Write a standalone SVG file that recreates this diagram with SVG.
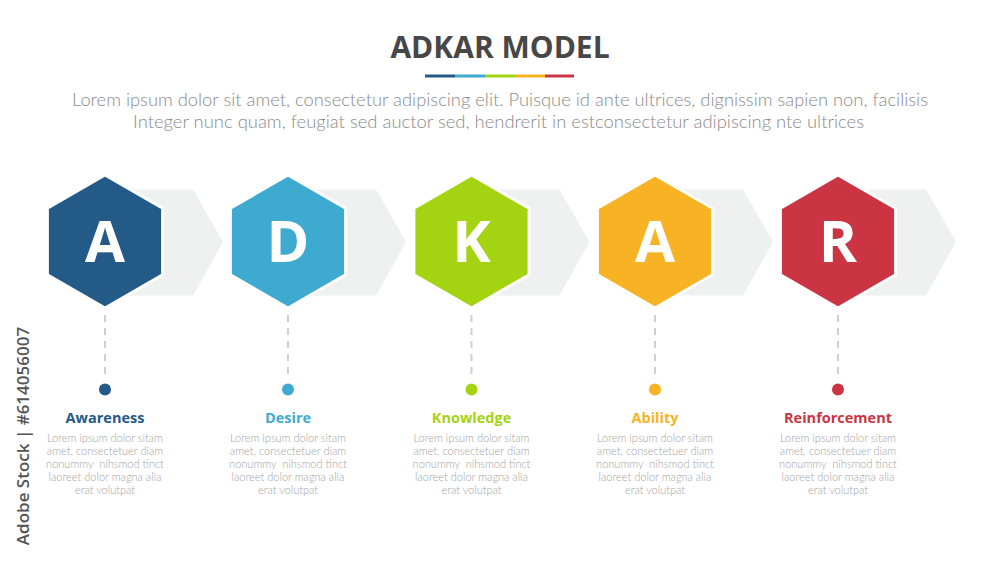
<svg xmlns="http://www.w3.org/2000/svg" xmlns:xlink="http://www.w3.org/1999/xlink" width="1000" height="563" viewBox="0 0 1000 563">
<style>
.title{font-family:"Open Sans","Liberation Sans",sans-serif;font-weight:700;font-size:30px;fill:#474747}
.sub{font-family:Lato,"Liberation Sans",sans-serif;font-weight:300;font-size:17.5px;fill:#8a8a8a}
.letter{font-family:"Open Sans","Liberation Sans",sans-serif;font-weight:700;font-size:58px;fill:#ffffff;text-anchor:middle}
.lbl{font-family:"Open Sans","Liberation Sans",sans-serif;font-weight:700;font-size:14.5px;text-anchor:middle}
.body{font-family:Lato,"Liberation Sans",sans-serif;font-weight:300;font-size:11px;fill:#a3a3a3;text-anchor:middle;white-space:pre}
.hex{stroke:#ffffff;stroke-width:3}
.chev{fill:#eff0f0}
.dash{stroke:#cfcfcf;stroke-width:2;stroke-dasharray:7 6}
.wm{font-family:"Open Sans","Liberation Sans",sans-serif;font-weight:600;font-size:17px;fill:#555555;text-anchor:middle}
</style>
<defs>
<path id="hexp" d="M0,-66.5 L57.6,-33.25 L57.6,33.25 L0,66.5 L-57.6,33.25 L-57.6,-33.25Z"/>
<path id="chevp" d="M0,-52.5 L88,-52.5 L118,0 L88,53.5 L0,53.5Z"/>
</defs>
<rect width="1000" height="563" fill="#ffffff"/>

<g id="header">
<text class="title" x="500" y="58" text-anchor="middle">ADKAR MODEL</text>
<rect x="425" y="74.5" width="30" height="3" fill="#235a87"/>
<rect x="455" y="74.5" width="30" height="3" fill="#3faacf"/>
<rect x="485" y="74.5" width="30" height="3" fill="#a4d312"/>
<rect x="515" y="74.5" width="30" height="3" fill="#f8b324"/>
<rect x="545" y="74.5" width="29" height="3" fill="#cb3443"/>
<text class="sub" x="500" y="106" text-anchor="middle" textLength="856" lengthAdjust="spacingAndGlyphs">Lorem ipsum dolor sit amet, consectetur adipiscing elit. Puisque id ante ultrices, dignissim sapien non, facilisis</text>
<text class="sub" x="498.5" y="128" text-anchor="middle" textLength="731" lengthAdjust="spacingAndGlyphs">Integer nunc quam, feugiat sed auctor sed, hendrerit in estconsectetur adipiscing nte ultrices</text>
</g>

<g id="connectors">
<use xlink:href="#chevp" class="chev" x="105" y="242"/>
<use xlink:href="#chevp" class="chev" x="288" y="242"/>
<use xlink:href="#chevp" class="chev" x="471.5" y="242"/>
<use xlink:href="#chevp" class="chev" x="655" y="242"/>
<use xlink:href="#chevp" class="chev" x="838" y="242"/>
<line class="dash" x1="105" y1="315" x2="105" y2="378"/>
<line class="dash" x1="288" y1="315" x2="288" y2="378"/>
<line class="dash" x1="471.5" y1="315" x2="471.5" y2="378"/>
<line class="dash" x1="655" y1="315" x2="655" y2="378"/>
<line class="dash" x1="838" y1="315" x2="838" y2="378"/>
</g>

<g id="node-awareness">
<use xlink:href="#hexp" class="hex" x="105" y="241.5" fill="#235a87"/>
<text class="letter" x="105" y="262">A</text>
<circle cx="105" cy="389.5" r="6" fill="#235a87"/>
<text class="lbl" x="105" y="423" fill="#235a87">Awareness</text>
<text class="body" x="105" y="442">Lorem ipsum dolor sitam</text>
<text class="body" x="105" y="455">amet, consectetuer diam</text>
<text class="body" x="105" y="468">nonummy  nihsmod tinct</text>
<text class="body" x="105" y="481">laoreet dolor magna alia</text>
<text class="body" x="105" y="494">erat volutpat</text>
</g>

<g id="node-desire">
<use xlink:href="#hexp" class="hex" x="288" y="241.5" fill="#3faacf"/>
<text class="letter" x="288" y="262">D</text>
<circle cx="288" cy="389.5" r="6" fill="#3faacf"/>
<text class="lbl" x="288" y="423" fill="#3faacf">Desire</text>
<text class="body" x="288" y="442">Lorem ipsum dolor sitam</text>
<text class="body" x="288" y="455">amet, consectetuer diam</text>
<text class="body" x="288" y="468">nonummy  nihsmod tinct</text>
<text class="body" x="288" y="481">laoreet dolor magna alia</text>
<text class="body" x="288" y="494">erat volutpat</text>
</g>

<g id="node-knowledge">
<use xlink:href="#hexp" class="hex" x="471.5" y="241.5" fill="#a4d312"/>
<text class="letter" x="471.5" y="262">K</text>
<circle cx="471.5" cy="389.5" r="6" fill="#a4d312"/>
<text class="lbl" x="471.5" y="423" fill="#a4d312">Knowledge</text>
<text class="body" x="471.5" y="442">Lorem ipsum dolor sitam</text>
<text class="body" x="471.5" y="455">amet, consectetuer diam</text>
<text class="body" x="471.5" y="468">nonummy  nihsmod tinct</text>
<text class="body" x="471.5" y="481">laoreet dolor magna alia</text>
<text class="body" x="471.5" y="494">erat volutpat</text>
</g>

<g id="node-ability">
<use xlink:href="#hexp" class="hex" x="655" y="241.5" fill="#f8b324"/>
<text class="letter" x="655" y="262">A</text>
<circle cx="655" cy="389.5" r="6" fill="#f8b324"/>
<text class="lbl" x="655" y="423" fill="#f8b324">Ability</text>
<text class="body" x="655" y="442">Lorem ipsum dolor sitam</text>
<text class="body" x="655" y="455">amet, consectetuer diam</text>
<text class="body" x="655" y="468">nonummy  nihsmod tinct</text>
<text class="body" x="655" y="481">laoreet dolor magna alia</text>
<text class="body" x="655" y="494">erat volutpat</text>
</g>

<g id="node-reinforcement">
<use xlink:href="#hexp" class="hex" x="838" y="241.5" fill="#cb3443"/>
<text class="letter" x="838" y="262">R</text>
<circle cx="838" cy="389.5" r="6" fill="#cb3443"/>
<text class="lbl" x="838" y="423" fill="#cb3443">Reinforcement</text>
<text class="body" x="838" y="442">Lorem ipsum dolor sitam</text>
<text class="body" x="838" y="455">amet, consectetuer diam</text>
<text class="body" x="838" y="468">nonummy  nihsmod tinct</text>
<text class="body" x="838" y="481">laoreet dolor magna alia</text>
<text class="body" x="838" y="494">erat volutpat</text>
</g>

<g id="watermark">
<text class="wm" transform="translate(28.5,436) rotate(-90)">Adobe Stock | #614056007</text>
</g>
</svg>
